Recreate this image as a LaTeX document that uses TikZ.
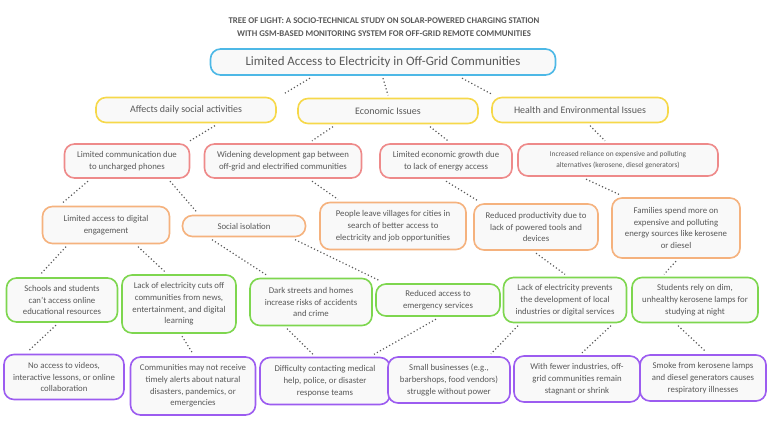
\documentclass[tikz,border=0pt]{standalone}
\usepackage{fontspec}
\setmainfont{Carlito}
\begin{document}
\begin{tikzpicture}[x=0.03cm,y=-0.03cm,
  bx/.style n args={3}{draw=#1,fill=gray!5,line width=1.4pt,rounded corners=8.5pt,
    minimum width=#2*0.03cm,minimum height=#3*0.03cm,align=center,inner sep=1pt,
    text=black!65,font=\fontsize{7.5}{10}\selectfont},
  lk/.style={draw=black!65,line width=1pt,dotted}]
\definecolor{cb}{HTML}{4DB8E6}\definecolor{cy}{HTML}{F6D84A}\definecolor{cr}{HTML}{EE8A8A}
\definecolor{co}{HTML}{F5B27E}\definecolor{cg}{HTML}{7ED64F}\definecolor{cp}{HTML}{9C5CF0}
\useasboundingbox (0,0) rectangle (768,431);
\node[font=\bfseries\fontsize{7.5}{11}\selectfont,text=black!65,align=center] (t) at (384,27)
 {TREE OF LIGHT: A SOCIO-TECHNICAL STUDY ON SOLAR-POWERED CHARGING STATION\\WITH GSM-BASED MONITORING SYSTEM FOR OFF-GRID REMOTE COMMUNITIES};
\node[bx={cb}{345}{26},font=\fontsize{11}{13}\selectfont] (r) at (383,62) {Limited Access to Electricity in Off-Grid Communities};
\node[bx={cy}{180}{25},font=\fontsize{8.5}{10}\selectfont] (A) at (186,110) {Affects daily social activities};
\node[bx={cy}{180}{25},font=\fontsize{8.5}{10}\selectfont] (B) at (388,111) {Economic Issues};
\node[bx={cy}{176}{25},font=\fontsize{8.5}{10}\selectfont] (C) at (580,110) {Health and Environmental Issues};
\node[bx={cr}{125}{34}] (R1) at (127,161) {Limited communication due\\to uncharged phones};
\node[bx={cr}{157}{34}] (R2) at (283,161) {Widening development gap between\\off-grid and electrified communities};
\node[bx={cr}{132}{34}] (R3) at (446,161) {Limited economic growth due\\to lack of energy access};
\node[bx={cr}{200}{32},font=\fontsize{6.3}{9}\selectfont] (R4) at (618,160) {Increased reliance on expensive and polluting\\alternatives (kerosene, diesel generators)};
\node[bx={co}{127}{37}] (O1) at (106,225) {Limited access to digital\\engagement};
\node[bx={co}{123}{21}] (O2) at (244,226) {Social isolation};
\node[bx={co}{146}{47}] (O3) at (393,226) {People leave villages for cities in\\search of better access to\\electricity and job opportunities};
\node[bx={co}{124}{46}] (O4) at (536,227) {Reduced productivity due to\\lack of powered tools and\\devices};
\node[bx={co}{128}{60}] (O5) at (676,228) {Families spend more on\\expensive and polluting\\energy sources like kerosene\\or diesel};
\node[bx={cg}{111}{44}] (G1) at (62,300) {Schools and students\\can't access online\\educational resources};
\node[bx={cg}{114}{58}] (G2) at (179,304) {Lack of electricity cuts off\\communities from news,\\entertainment, and digital\\learning};
\node[bx={cg}{122}{47}] (G3) at (311,302) {Dark streets and homes\\increase risks of accidents\\and crime};
\node[bx={cg}{124}{32}] (G4) at (438,300) {Reduced access to\\emergency services};
\node[bx={cg}{123}{45}] (G5) at (565,300) {Lack of electricity prevents\\the development of local\\industries or digital services};
\node[bx={cg}{126}{45}] (G6) at (695,300) {Students rely on dim,\\unhealthy kerosene lamps for\\studying at night};
\node[bx={cp}{120}{45}] (P1) at (64,377) {No access to videos,\\interactive lessons, or online\\collaboration};
\node[bx={cp}{125}{58}] (P2) at (193,386) {Communities may not receive\\timely alerts about natural\\disasters, pandemics, or\\emergencies};
\node[bx={cp}{130}{47}] (P3) at (325,381) {Difficulty contacting medical\\help, police, or disaster\\response teams};
\node[bx={cp}{122}{46}] (P4) at (449,380) {Small businesses (e.g.,\\barbershops, food vendors)\\struggle without power};
\node[bx={cp}{126}{46}] (P5) at (577,379) {With fewer industries, off-\\grid communities remain\\stagnant or shrink};
\node[bx={cp}{126}{46}] (P6) at (703,378) {Smoke from kerosene lamps\\and diesel generators causes\\respiratory illnesses};
\foreach \a/\da/\b/\db in {r/-73/A/97, r/0/B/0, r/79/C/-88, A/29/R1/63, B/-55/R2/29, B/42/R3/2,
  C/10/R4/-13, R1/-39/O1/-44, R1/43/O2/-47, R2/29/O3/-55, R3/0/O4/-58, R4/-32/O5/-56,
  O1/-40/G1/-22, O1/32/G2/-14, O2/-32/G3/-44, O2/51/G4/-58, O4/0/G5/0, O5/0/G6/-31,
  G1/-6/P1/-36, G2/3/P2/0, G3/-24/P3/-12, G4/-2/P3/49, G5/-47/P4/42, G5/46/P5/5, G6/-17/P6/3}
  \draw[lk] ([xshift=\da*0.03cm,yshift=-2pt]\a.south) -- ([xshift=\db*0.03cm,yshift=2pt]\b.north);
\end{tikzpicture}
\end{document}
